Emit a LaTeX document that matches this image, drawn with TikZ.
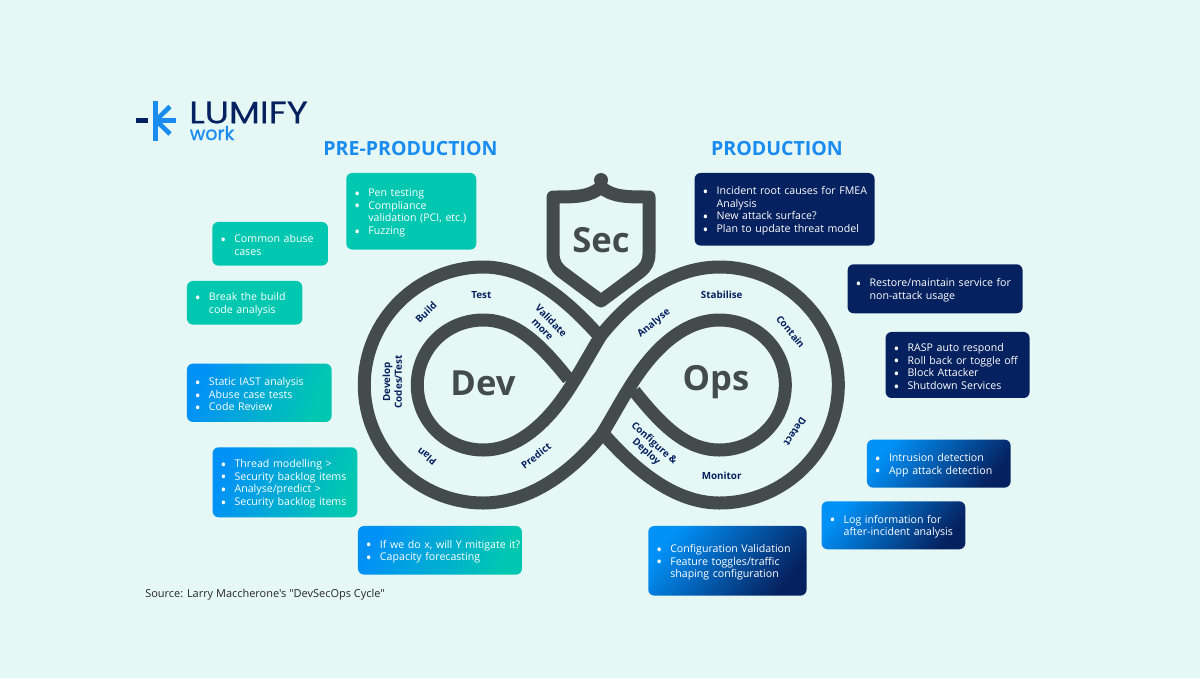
\documentclass[tikz,border=0pt]{standalone}
\usepackage{fontspec}
\setmainfont{Open Sans}
\newfontfamily\logofont[FakeBold=.3]{Poppins}
\newfontfamily\workfont[FakeBold=.8]{Poppins}
\newfontfamily\sourcefont{Open Sans}
\usepackage{xcolor}
\usetikzlibrary{positioning}

\definecolor{pagebg}{HTML}{E6F8F6}
\definecolor{loopgrey}{HTML}{444B4C}
\definecolor{navy}{HTML}{06215F}
\definecolor{tealbox}{HTML}{00C8B0}
\definecolor{brightblue}{HTML}{0091F7}
\definecolor{titleblue}{HTML}{1A8CF0}

\def\px{0.025cm}
\newcommand{\bl}{\hspace*{.2cm}\makebox[.35cm][l]{\smash{\raisebox{-2pt}{\fontsize{11}{9}\selectfont\textbullet}}}}
\newcommand{\ct}{\hspace*{.55cm}}

\begin{document}
\begin{tikzpicture}[
    x=\px, y=-\px,
    card/.style 2 args={rounded corners=6*\px, inner xsep=0pt, inner ysep=0pt, anchor=north west,
      minimum width=#1*\px, minimum height=#2*\px, text width=#1*\px, align=left, text=white,
      font=\fontsize{7.55}{9.03}\selectfont, execute at begin node={\rule{0pt}{7.8pt}}},
    tealcard/.style={fill=tealbox},
    navycard/.style={fill=navy},
    tealfade/.style={left color=brightblue, right color=tealbox, shading angle=70},
    navyfade/.style={left color=brightblue, right color=navy, shading angle=50},
    word/.style={font=\fontsize{24.6}{25}\bfseries\selectfont, text=loopgrey, inner sep=0pt},
    tag/.style={font=\fontsize{7}{8.4}\bfseries\selectfont, text=navy, align=center, inner sep=0pt},
    phase/.style={font=\fontsize{13.9}{16}\bfseries\selectfont, text=titleblue, inner sep=0pt},
    band/.style={draw=loopgrey, line width=13*\px, line join=round}
  ]
    \useasboundingbox[fill=pagebg] (0,0) rectangle (1200,678);

    % logo
    \draw[navy, line width=4.7*\px] (136,120.3) -- (148.3,120.3);
    \draw[titleblue, line width=4.7*\px] (155.8,101.3) -- (155.8,140.7);
    \draw[titleblue, line width=4.7*\px] (156,120.3) -- (176,120.3);
    \draw[titleblue, line width=4.7*\px] (156,120.3) -- (170,106.5);
    \draw[titleblue, line width=4.7*\px] (156,120.3) -- (170,134);
    \node[anchor=base west, inner sep=0pt, text=navy, font=\logofont\fontsize{22}{22}\selectfont] (lumify) at (189,123.3) {\scalebox{1.16}[1]{LUMIFY}};
    \node[anchor=base west, inner sep=0pt, text=titleblue, font=\workfont\fontsize{13.5}{15}\selectfont] (work) at (189.5,140) {work};

    \node[phase] (preprod) at (410.5,149) {PRE-PRODUCTION};
    \node[phase] (prod) at (777,149) {PRODUCTION};

    % infinity loop, two spirals
    \foreach \turn in {0,180} {
      \begin{scope}[shift={(601.3,385)}, rotate=\turn]
        \draw[band] (-3,-50) .. controls (-30,-80) and (-70,-118) .. (-118,-118)
          .. controls (-183,-118) and (-237,-65) .. (-237,0)
          .. controls (-237,65) and (-183,118) .. (-118,118)
          .. controls (-70,118) and (-28,85) .. (0,50)
          .. controls (10,34) and (20,15) .. (31,-2)
          .. controls (50,-32) and (80,-65) .. (118,-65)
          .. controls (155,-65) and (184,-36) .. (184,0)
          .. controls (184,36) and (155,65) .. (118,65)
          .. controls (85,65) and (60,40) .. (33,6);
      \end{scope}
    }

    % shield
    \draw[band] (601,187) .. controls (590,197) and (575,197) .. (553,197)
      -- (553,253) .. controls (553,262) and (556,267) .. (562,272)
      -- (601,301) -- (640,272) .. controls (646,267) and (649,262) .. (649,253)
      -- (649,197) .. controls (627,197) and (612,197) .. (601,187);
    \fill[loopgrey] (601,180) circle (7);

    \node[word] (sec) at (601,240) {Sec};
    \node[word] (dev) at (483,383) {Dev};
    \node[word] (ops) at (716,382) {Ops};

    % labels on the loop
    \node[tag] (test) at (481.3,295.3) {Test};
    \node[tag, rotate=45] (build) at (426,312.3) {Build};
    \node[tag, rotate=90] (develop) at (392.3,381.7) {Develop\\Codes/Test};
    \node[tag, rotate=141] (plan) at (426.7,456.7) {Plan};
    \node[tag, rotate=38] (predict) at (536,456) {Predict};
    \node[tag, rotate=-46] (validate) at (547,325) {Validate\\more};
    \node[tag, rotate=39] (analyse) at (654,323.3) {Analyse};
    \node[tag] (stabilise) at (721.7,295.3) {Stabilise};
    \node[tag, rotate=-51] (contain) at (790.7,331.7) {Contain};
    \node[tag, rotate=-123] (detect) at (795,431.7) {Detect};
    \node[tag] (monitor) at (721.7,475.3) {Monitor};
    \node[tag, rotate=-42] (configure) at (650,448) {Configure \&\\Deploy};

    % pre-production cards
    \node[card={130}{76.6}, tealcard] (pen) at (346,172.7)
      {\bl Pen testing\\\bl Compliance\\\ct validation (PCI, etc.)\\\bl Fuzzing};
    \node[card={115.7}{43.6}, tealcard] (abuse) at (212,221.7)
      {\bl Common abuse\\\ct cases};
    \node[card={115.3}{43.6}, tealcard] (break) at (186.7,280.7)
      {\bl Break the build\\\ct code analysis};
    \node[card={144.6}{58.4}, tealfade] (static) at (186.7,363.3)
      {\bl Static IAST analysis\\\bl Abuse case tests\\\bl Code Review};
    \node[card={144.7}{70}, tealfade] (thread) at (212.3,447)
      {\bl Thread modelling >\\\bl Security backlog items\\\bl Analyse/predict >\\\bl Security backlog items};
    \node[card={164}{48.6}, tealfade] (mitigate) at (357.7,525.7)
      {\bl \mbox{If we do x, will Y mitigate it?}\\\bl Capacity forecasting};

    % production cards
    \node[card={180}{72.6}, navycard] (incident) at (694.3,172.7)
      {\bl \mbox{Incident root causes for FMEA}\\\ct Analysis\\\bl New attack surface?\\\bl Plan to update threat model};
    \node[card={175}{49}, navycard] (restore) at (847.3,264)
      {\bl \mbox{Restore/maintain service for}\\\ct non-attack usage};
    \node[card={144}{66}, navycard] (rasp) at (885.3,331.7)
      {\bl RASP auto respond\\\bl Roll back or toggle off\\\bl Block Attacker\\\bl Shutdown Services};
    \node[card={143.6}{48}, navyfade] (intrusion) at (866.7,439.3)
      {\bl Intrusion detection\\\bl App attack detection};
    \node[card={143.7}{48}, navyfade] (log) at (821.3,501)
      {\bl Log information for\\\ct after-incident analysis};
    \node[card={158.3}{69.6}, navyfade] (config) at (648,525.7)
      {\bl Configuration Validation\\\bl Feature toggles/traffic\\\ct shaping configuration};

    \node[anchor=west, inner sep=0pt, text=black!85, font=\sourcefont\fontsize{7.8}{9}\selectfont] (source) at (145,594.7)
      {Source: Larry Maccherone's "DevSecOps Cycle"};
\end{tikzpicture}
\end{document}
